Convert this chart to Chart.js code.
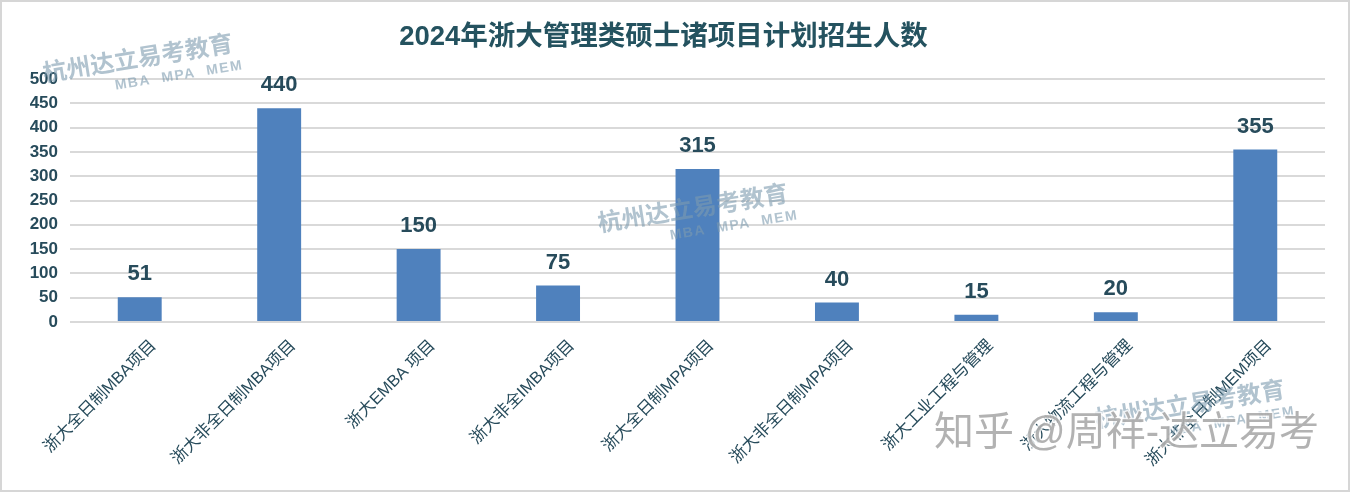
<!DOCTYPE html>
<html>
<head>
<meta charset="utf-8">
<script src="https://cdn.jsdelivr.net/npm/chart.js@4"></script>
<style>
  html, body { margin: 0; padding: 0; background: #fff; }
  #wrap { position: relative; width: 1346px; height: 488px; border: 2px solid #d6d6d6; }
  canvas { display: block; }
</style>
</head>
<body>
<div id="wrap"><canvas id="myChart" width="1346" height="488"></canvas></div>
<script>
// Chart data
const categories = [
  "浙大全日制MBA项目",
  "浙大非全日制MBA项目",
  "浙大EMBA 项目",
  "浙大非全IMBA项目",
  "浙大全日制MPA项目",
  "浙大非全日制MPA项目",
  "浙大工业工程与管理",
  "浙大物流工程与管理",
  "浙大非全日制MEM项目",
];
const enrolment = [51, 440, 150, 75, 315, 40, 15, 20, 355];
const yTicks = [0, 50, 100, 150, 200, 250, 300, 350, 400, 450, 500];

const FONT = "'Liberation Sans', 'Noto Sans CJK SC', sans-serif";
const TEXT_DARK = "#274b5b";

// Watermarks (text only, drawn on top)
const watermarks = [
  { x: 136, y: 58 },
  { x: 691, y: 208 },
  { x: 1188, y: 404 },
];

const ctx = document.getElementById("myChart");

new Chart(ctx, {
  type: "bar",
  data: {
    labels: categories,
    datasets: [
      {
        label: "计划招生人数",
        data: enrolment,
        backgroundColor: "#4f81bd",
        barPercentage: 0.63,
        categoryPercentage: 0.5,
      },
    ],
  },
  options: {
    responsive: false,
    animation: false,
    layout: { padding: { left: 0, right: 23, top: 0, bottom: 0 } },
    scales: {
      x: {
        grid: { display: false },
        border: { display: false },
        ticks: {
          minRotation: 45,
          maxRotation: 45,
          padding: 6,
          labelOffset: 14,
          color: TEXT_DARK,
          font: { family: FONT, size: 16.5 },
        },
        afterFit(scale) {
          scale.height = 168;
        },
      },
      y: {
        min: 0,
        max: 500,
        afterBuildTicks(scale) {
          scale.ticks = yTicks.map((v) => ({ value: v }));
        },
        grid: { color: "#d9d9d9", lineWidth: 2, drawTicks: false },
        border: { display: false },
        ticks: {
          padding: 12,
          color: TEXT_DARK,
          font: { family: FONT, size: 17, weight: "bold" },
        },
        afterFit(scale) {
          scale.width = 68;
        },
      },
    },
    plugins: {
      legend: { display: false },
      tooltip: { enabled: false },
      title: {
        display: true,
        text: "2024年浙大管理类硕士诸项目计划招生人数",
        color: "#24525f",
        padding: { top: 19, bottom: 25 },
        font: { family: FONT, size: 27.5, weight: "bold" },
      },
    },
  },
  plugins: [
    {
      id: "value_labels",
      afterDatasetsDraw(chart) {
        const { ctx } = chart;
        const meta = chart.getDatasetMeta(0);
        ctx.save();
        ctx.font = "bold 22px " + FONT;
        ctx.fillStyle = TEXT_DARK;
        ctx.textAlign = "center";
        ctx.textBaseline = "middle";
        meta.data.forEach((bar, i) => {
          ctx.fillText(String(enrolment[i]), bar.x, bar.y - 23);
        });
        ctx.restore();
      },
    },
    {
      id: "watermarks",
      afterDraw(chart) {
        const { ctx } = chart;
        ctx.save();
        watermarks.forEach((w) => {
          ctx.save();
          ctx.translate(w.x, w.y);
          ctx.rotate(-0.16);
          ctx.textAlign = "center";
          ctx.textBaseline = "middle";
          ctx.fillStyle = "rgba(125, 155, 175, 0.6)";
          ctx.font = "bold 24px " + FONT;
          ctx.fillText("杭州达立易考教育", 0, 0);
          ctx.font = "bold 14px " + FONT;
          ctx.letterSpacing = "1.5px";
          ctx.fillText("MBA  MPA  MEM", 38, 22);
          ctx.restore();
        });

        // Zhihu mark
        ctx.font = "40px " + FONT;
        ctx.textAlign = "left";
        ctx.textBaseline = "middle";
        ctx.lineWidth = 3;
        ctx.strokeStyle = "rgba(255,255,255,0.8)";
        ctx.strokeText("知乎 @周祥-达立易考", 932, 432);
        ctx.fillStyle = "rgba(145, 145, 145, 0.7)";
        ctx.fillText("知乎 @周祥-达立易考", 932, 432);
        ctx.restore();
      },
    },
  ],
});
</script>
</body>
</html>
